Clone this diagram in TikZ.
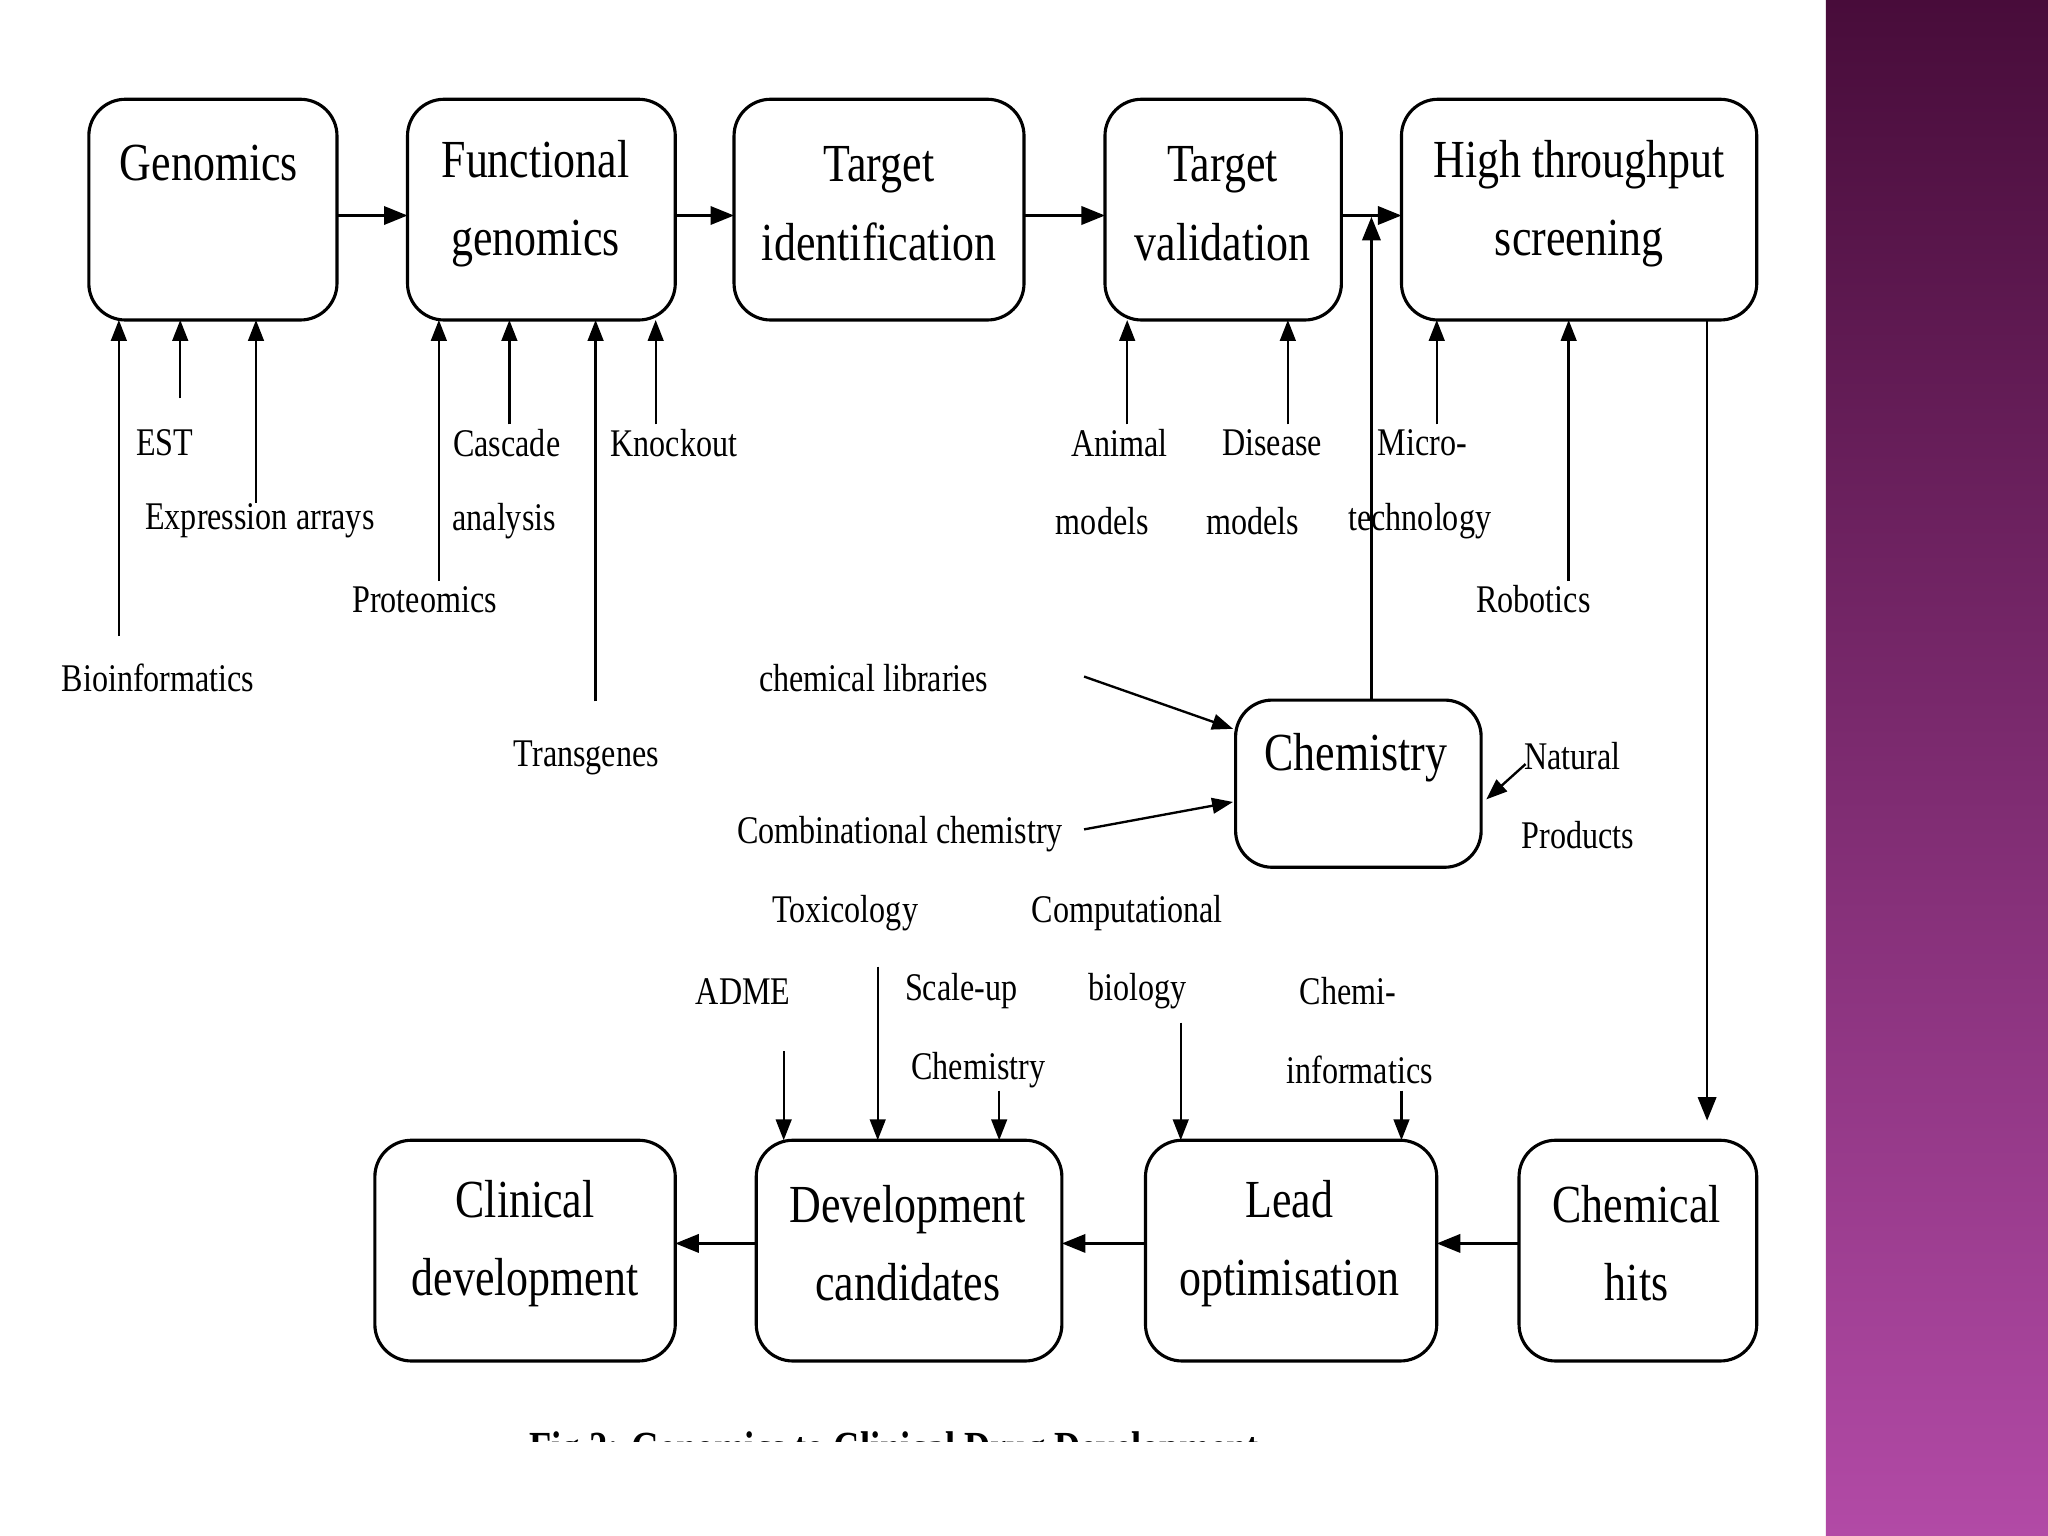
\documentclass[tikz,border=0pt]{standalone}
\usepackage{fontspec}
\setmainfont{Liberation Serif}[FakeStretch=0.82]
\usetikzlibrary{arrows.meta}
\begin{document}
\begin{tikzpicture}[x=0.5pt,y=-0.5pt,
  box/.style={draw,line width=1.2pt,rounded corners=14pt,inner sep=0pt},
  bt/.style={font=\fontsize{20.5}{30}\selectfont,align=center},
  lb/.style={font=\fontsize{15}{30}\selectfont,inner sep=0pt,align=center},
  ar/.style={-{Triangle[length=9pt,width=7pt]},line width=1pt},
  ia/.style={-{Triangle[length=8pt,width=6pt]},line width=0.9pt}]
\useasboundingbox (0,0) rectangle (1568,1176);
\fill[white] (0,0) rectangle (1398,1176);
\shade[top color={rgb,255:red,72;green,12;blue,58},bottom color={rgb,255:red,178;green,74;blue,166}] (1398,0) rectangle (1568,1176);
% boxes
\draw[box] (68,76) rectangle (258,245);
\node[bt] (gt) at (160,125) {Genomics};
\draw[box] (312,76) rectangle (517,245);
\node[bt] at (410,156) {Functional\\genomics};
\draw[box] (562,76) rectangle (784,245);
\node[bt] at (673,156) {Target\\identification};
\draw[box] (846,76) rectangle (1027,245);
\node[bt] at (936,156) {Target\\validation};
\draw[box] (1073,76) rectangle (1345,245);
\node[bt] at (1209,156) {High throughput\\screening};
\draw[box] (946,536) rectangle (1134,664);
\node[bt] at (1038,580) {Chemistry};
\draw[box] (287,873) rectangle (517,1042);
\node[bt] at (402,952) {Clinical\\development};
\draw[box] (579,873) rectangle (813,1042);
\node[bt] at (695,952) {Development\\candidates};
\draw[box] (877,873) rectangle (1100,1042);
\node[bt] at (987,952) {Lead\\optimisation};
\draw[box] (1163,873) rectangle (1345,1042);
\node[bt] at (1253,952) {Chemical\\hits};
% main arrows
\coordinate (a1) at (258,165); \coordinate (b1) at (312,165);
\coordinate (a2) at (517,165); \coordinate (b2) at (562,165);
\coordinate (a3) at (784,165); \coordinate (b3) at (846,165);
\coordinate (a4) at (1027,165); \coordinate (b4) at (1073,165);
\draw[ar] (a1)--(b1); \draw[ar] (a2)--(b2); \draw[ar] (a3)--(b3); \draw[ar] (a4)--(b4);
\coordinate (c1) at (1050,536); \coordinate (c2) at (1050,166);
\draw[ar] (c1)--(c2);
\coordinate (h1) at (1307,245); \coordinate (h2) at (1307,858);
\draw[ar] (h1)--(h2);
\coordinate (l1) at (1163,952); \coordinate (l2) at (1100,952);
\coordinate (l3) at (877,952); \coordinate (l4) at (813,952);
\coordinate (l5) at (579,952); \coordinate (l6) at (517,952);
\draw[ar] (l1)--(l2); \draw[ar] (l3)--(l4); \draw[ar] (l5)--(l6);
% labels
\foreach \t/\x/\y in {EST/126/339,Expression arrays/199/399,Proteomics/325/459,Bioinformatics/121/519,
 Cascade/388/339,analysis/386/399,Knockout/516/339,Transgenes/449/580,Animal/857/339,models/844/399,
 Disease/974/339,models/959/399,Micro-/1089/339,technology/1087/399,Robotics/1174/459,
 chemical libraries/669/519,Combinational chemistry/689/639,Natural/1204/579,Products/1208/639,
 Toxicology/647/699,Computational/863/699,ADME/569/759,Scale-up/736/759,biology/871/759,
 Chemi-/1032/759,Chemistry/749/819,informatics/1041/819}
 \node[lb] at (\x,\y) {\t};
% input arrows to top
\foreach \x/\y in {91/487,138/305,196/385,336/445,390/325,456/537,502/325,863/325,986/325,1100/325,1201/445}
 {\coordinate (s) at (\x,\y); \coordinate (e) at (\x,245); \draw[ia] (s)--(e);}
% bottom inputs
\foreach \x/\y in {600/805,672/740,765/835,904/783,1073/835}
 {\coordinate (s) at (\x,\y); \coordinate (e) at (\x,873); \draw[ia] (s)--(e);}
\draw[ia] (830,518)--(944,558);
\draw[ia] (830,635)--(944,614);
\draw[ia] (1168,585)--(1138,612);
\begin{scope}
\clip (0,1080) rectangle (1398,1104);
\node[font=\bfseries\fontsize{17}{30}\selectfont,inner sep=0pt,anchor=west] at (405,1112) {Fig 2: Genomics to Clinical Drug Development};
\end{scope}
\end{tikzpicture}
\end{document}
